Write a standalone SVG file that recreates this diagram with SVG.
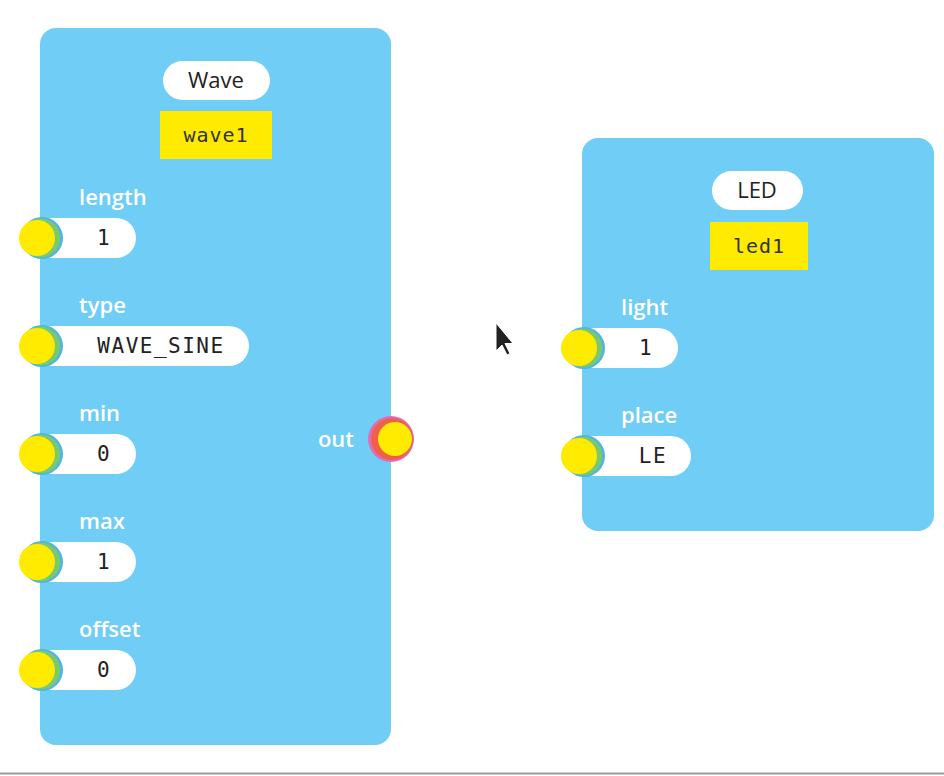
<svg xmlns="http://www.w3.org/2000/svg" width="944" height="776" viewBox="0 0 944 776">
<defs>
<style>
.node{fill:#6fcdf6}
.title{fill:#fff}
.tt{font-family:"Open Sans",sans-serif;font-size:22px;fill:#222;text-anchor:middle}
.id{fill:#ffeb00}
.idt{font-family:"DejaVu Sans Mono",monospace;font-size:20px;fill:#333;text-anchor:middle;letter-spacing:1px}
.lbl{font-family:"Open Sans",sans-serif;font-size:22px;fill:#fff;font-weight:600}
.pill{fill:#fff}
.val{font-family:"DejaVu Sans Mono",monospace;font-size:21px;fill:#222;text-anchor:middle;letter-spacing:1.5px}
</style>
<g id="inport">
<circle cx="42" cy="0" r="21" fill="#4ab4ee"/>
<circle cx="41" cy="0" r="19.500" fill="#7cc86c"/>
<circle cx="37" cy="0" r="18" fill="#ffeb00"/>
</g>
</defs>
<rect width="944" height="776" fill="#fff"/>
<line x1="0" y1="773.500" x2="944" y2="773.500" stroke="#999" stroke-width="2"/>
<g id="wave">
<rect class="node" x="40" y="28" width="351" height="717" rx="16"/>
<rect class="title" x="163" y="61" width="107" height="39" rx="19.500"/>
<text class="tt" x="216" y="88">Wave</text>
<rect class="id" x="160" y="111" width="112" height="48"/>
<text class="idt" x="216" y="142">wave1</text>
<text class="lbl" x="79" y="205">length</text>
<path class="pill" d="M40 218H116a20 20 0 0 1 0 40H40z"/><use href="#inport" y="238"/>
<text class="val" x="104" y="245">1</text>
<text class="lbl" x="79" y="313">type</text>
<path class="pill" d="M40 326H229a20 20 0 0 1 0 40H40z"/><use href="#inport" y="346"/>
<text class="val" x="161" y="353">WAVE_SINE</text>
<text class="lbl" x="79" y="421">min</text>
<path class="pill" d="M40 434H116a20 20 0 0 1 0 40H40z"/><use href="#inport" y="454"/>
<text class="val" x="104" y="461">0</text>
<text class="lbl" x="79" y="529">max</text>
<path class="pill" d="M40 542H116a20 20 0 0 1 0 40H40z"/><use href="#inport" y="562"/>
<text class="val" x="104" y="569">1</text>
<text class="lbl" x="79" y="637">offset</text>
<path class="pill" d="M40 650H116a20 20 0 0 1 0 40H40z"/><use href="#inport" y="670"/>
<text class="val" x="104" y="677">0</text>
<text class="lbl" x="354" y="447" text-anchor="end">out</text>
<circle cx="391" cy="439" r="23" fill="#e06cb8"/>
<circle cx="392" cy="439" r="21" fill="#ee6048"/>
<circle cx="395" cy="439" r="17" fill="#ffeb00"/>
</g>
<g id="led">
<rect class="node" x="582" y="138" width="352" height="393" rx="16"/>
<rect class="title" x="712" y="171" width="91" height="39" rx="19.500"/>
<text class="tt" x="757" y="198">LED</text>
<rect class="id" x="710" y="222" width="98" height="48"/>
<text class="idt" x="759" y="253">led1</text>
<text class="lbl" x="621" y="315">light</text>
<path class="pill" d="M582 328H658a20 20 0 0 1 0 40H582z"/><use href="#inport" x="542" y="348"/>
<text class="val" x="646" y="355">1</text>
<text class="lbl" x="621" y="423">place</text>
<path class="pill" d="M582 436H671a20 20 0 0 1 0 40H582z"/><use href="#inport" x="542" y="456"/>
<text class="val" x="653" y="463">LE</text>
</g>
<g id="connectors"/>
<path d="M496 323V351l6-6 5 10 3-1.500-5-10h8z" fill="#222" stroke="#fff" stroke-width="1"/>
</svg>
